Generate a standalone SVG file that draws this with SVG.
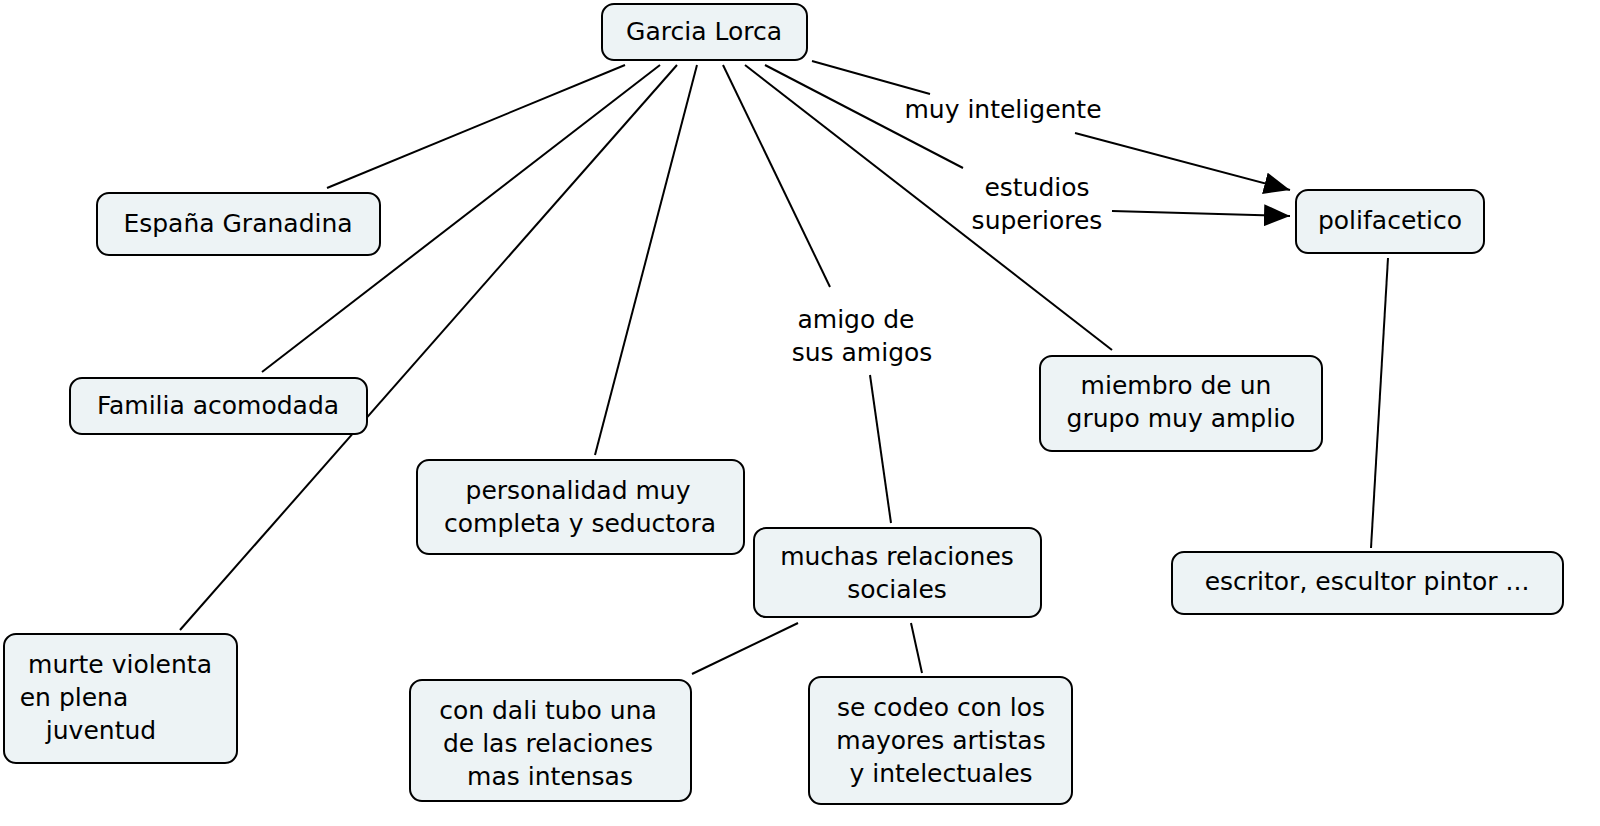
<svg xmlns="http://www.w3.org/2000/svg" width="1600" height="826" viewBox="0 0 1600 826">
<style>
rect{fill:#edf3f5;stroke:#000;stroke-width:2}
text{font-family:"DejaVu Sans",Verdana,sans-serif;font-size:25px;fill:#000;text-anchor:middle}
#c line{stroke:#000;stroke-width:2}
</style>
<defs>
<marker id="b" viewBox="0 0 10 10" refX="10" refY="5" markerWidth="26" markerHeight="22" markerUnits="userSpaceOnUse" orient="auto" preserveAspectRatio="none"><path d="M0,0L10,5L0,10z"/></marker></defs>
<rect width="1600" height="826" style="fill:#fff;stroke:none"/>
<g id="c">
<line x1="625" y1="65" x2="327" y2="188"/>
<line x1="660" y1="65" x2="262" y2="372"/>
<line x1="677" y1="65" x2="180" y2="630"/>
<line x1="697" y1="65" x2="595" y2="455"/>
<line x1="723" y1="65" x2="830" y2="287"/>
<line x1="870" y1="375" x2="891" y2="523"/>
<line x1="745" y1="65" x2="1112" y2="350"/>
<line x1="765" y1="65" x2="963" y2="168"/>
<line x1="1112" y1="211" x2="1290" y2="216" marker-end="url(#b)"/>
<line x1="812" y1="61" x2="930" y2="94"/>
<line x1="1075" y1="133" x2="1290" y2="190" marker-end="url(#b)"/>
<line x1="1388" y1="258" x2="1371" y2="548"/>
<line x1="798" y1="623" x2="692" y2="674"/>
<line x1="911" y1="623" x2="922" y2="673"/>
<text x="1003" y="118">muy inteligente</text>
<text x="1037" y="196">estudios</text>
<text x="1037" y="229">superiores</text>
<text x="856" y="328">amigo de</text>
<text x="862" y="361">sus amigos</text>
</g>
<g id="n1"><rect x="602" y="4" width="205" height="56" rx="12"/><text x="704" y="40">Garcia Lorca</text></g>
<g id="n2"><rect x="97" y="193" width="283" height="62" rx="12"/><text x="238" y="232">España Granadina</text></g>
<g id="n3"><rect x="70" y="378" width="297" height="56" rx="12"/><text x="218" y="414">Familia acomodada</text></g>
<g id="n4"><rect x="4" y="634" width="233" height="129" rx="12"/><text x="120" y="673">murte violenta</text><text x="74" y="706">en plena</text><text x="101" y="739">juventud</text></g>
<g id="n5"><rect x="417" y="460" width="327" height="94" rx="12"/><text x="578" y="499">personalidad muy</text><text x="580" y="532">completa y seductora</text></g>
<g id="n6"><rect x="754" y="528" width="287" height="89" rx="12"/><text x="897" y="565">muchas relaciones</text><text x="897" y="598">sociales</text></g>
<g id="n7"><rect x="410" y="680" width="281" height="121" rx="12"/><text x="548" y="719">con dali tubo una</text><text x="548" y="752">de las relaciones</text><text x="550" y="785">mas intensas</text></g>
<g id="n8"><rect x="809" y="677" width="263" height="127" rx="12"/><text x="941" y="716">se codeo con los</text><text x="941" y="749">mayores artistas</text><text x="941" y="782">y intelectuales</text></g>
<g id="n9"><rect x="1040" y="356" width="282" height="95" rx="12"/><text x="1176" y="394">miembro de un</text><text x="1181" y="427">grupo muy amplio</text></g>
<g id="n10"><rect x="1296" y="190" width="188" height="63" rx="12"/><text x="1390" y="229">polifacetico</text></g>
<g id="n11"><rect x="1172" y="552" width="391" height="62" rx="12"/><text x="1367" y="590">escritor, escultor pintor ...</text></g>
</svg>
